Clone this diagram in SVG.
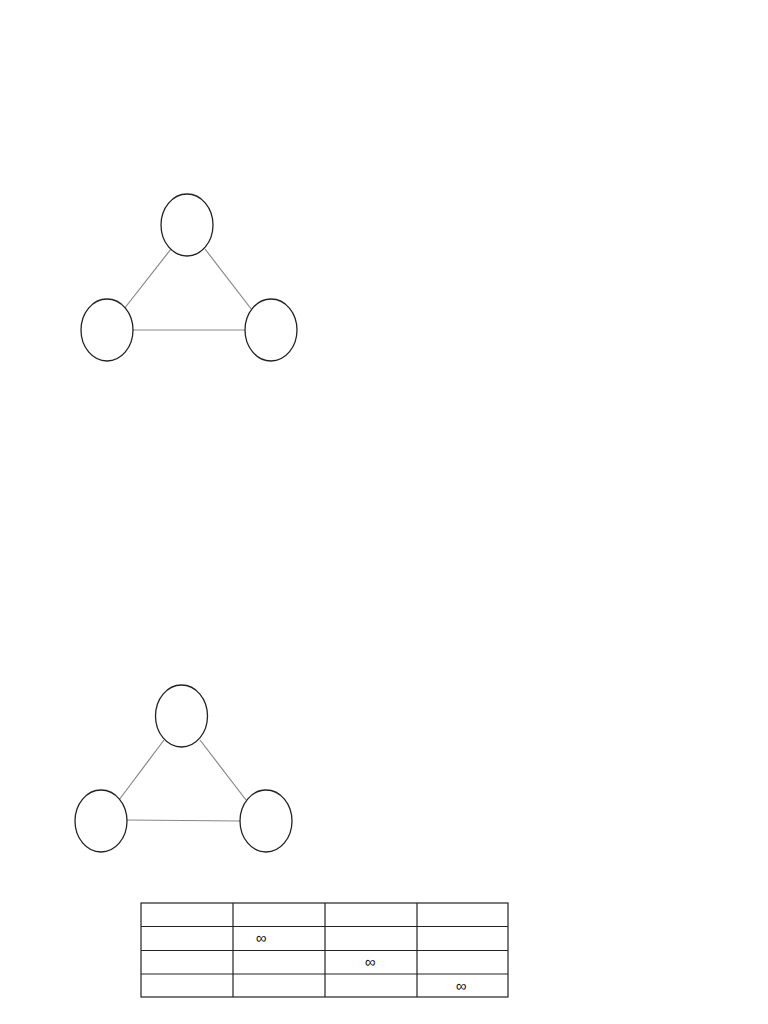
<svg xmlns="http://www.w3.org/2000/svg" width="768" height="1024" viewBox="0 0 768 1024">
<style>
.n{fill:#fff;stroke:#222;stroke-width:1.3}
.e{stroke:#888;stroke-width:1.2;fill:none}
.t{stroke:#222;stroke-width:1.2;fill:none}
.s{font-family:"Liberation Sans",Arial,sans-serif;font-size:15px;fill:#111;text-anchor:middle}
</style>
<rect width="768" height="1024" fill="#fff"/>
<g id="connectors">
<line class="e" x1="171" y1="249" x2="124" y2="309"/>
<line class="e" x1="205" y1="249" x2="252" y2="310"/>
<line class="e" x1="133" y1="330" x2="245" y2="330"/>
<line class="e" x1="164" y1="740" x2="119" y2="800"/>
<line class="e" x1="200" y1="740" x2="246" y2="800"/>
<line class="e" x1="127" y1="820" x2="240" y2="821"/>
</g>
<g id="g1-top"><ellipse class="n" cx="187" cy="225" rx="26" ry="31"/></g>
<g id="g1-left"><ellipse class="n" cx="107" cy="330" rx="26" ry="31"/></g>
<g id="g1-right"><ellipse class="n" cx="271" cy="330" rx="26" ry="31"/></g>
<g id="g2-top"><ellipse class="n" cx="181.5" cy="716" rx="26" ry="31"/></g>
<g id="g2-left"><ellipse class="n" cx="101" cy="821" rx="26" ry="31"/></g>
<g id="g2-right"><ellipse class="n" cx="266" cy="821" rx="26" ry="31"/></g>
<g id="table">
<rect class="t" x="141" y="903" width="367" height="94"/>
<line class="t" x1="141" y1="926.5" x2="508" y2="926.5"/>
<line class="t" x1="141" y1="950.5" x2="508" y2="950.5"/>
<line class="t" x1="141" y1="974" x2="508" y2="974"/>
<line class="t" x1="233" y1="903" x2="233" y2="997"/>
<line class="t" x1="325" y1="903" x2="325" y2="997"/>
<line class="t" x1="417" y1="903" x2="417" y2="997"/>
<text class="s" x="261" y="943">∞</text>
<text class="s" x="370" y="967">∞</text>
<text class="s" x="461" y="991">∞</text>
</g>
</svg>
